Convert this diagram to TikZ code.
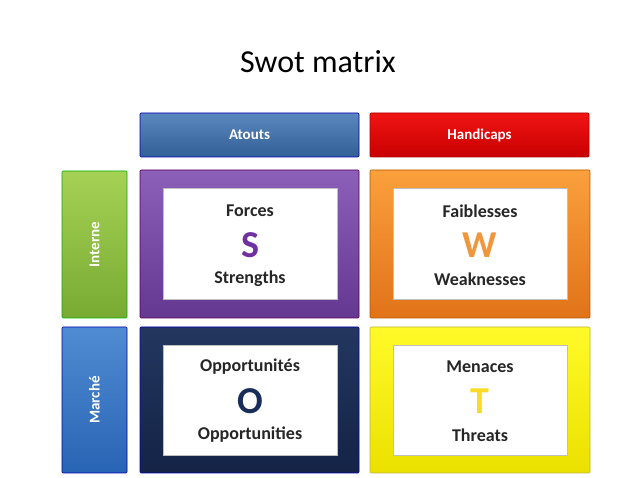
\documentclass[tikz,border=0pt]{standalone}
\usepackage{fontspec}
\setmainfont{Carlito}
\begin{document}
\begin{tikzpicture}[x=1pt,y=-1pt,
 box/.style={rounded corners=1pt,draw=#1!70!black,line width=0.6pt},
 inner/.style={fill=white,draw=black!25,line width=0.5pt},
 lab/.style={font=\bfseries\fontsize{18}{20}\selectfont,text=black!85},
 big/.style={font=\bfseries\fontsize{38}{40}\selectfont},
 hd/.style={font=\bfseries\fontsize{15}{17}\selectfont,text=white}]
\useasboundingbox (0,0) rectangle (638,478);
\node (title) at (318,62) {\fontsize{32}{36}\selectfont Swot matrix};
% headers
\shade[box=blue, top color={rgb,255:red,90;green,135;blue,190}, bottom color={rgb,255:red,50;green,95;blue,150}] (140,113) rectangle (359,157);
\node[hd] (atouts) at (249.5,135) {Atouts};
\shade[box=red, top color={rgb,255:red,240;green,20;blue,20}, bottom color={rgb,255:red,200;green,0;blue,0}] (370,113) rectangle (589,157);
\node[hd] (handicaps) at (479.5,135) {Handicaps};
% side
\shade[box=green, top color={rgb,255:red,165;green,210;blue,85}, bottom color={rgb,255:red,120;green,170;blue,50}] (62,171) rectangle (127,318);
\node[hd,rotate=90] (interne) at (94.5,244.5) {Interne};
\shade[box=blue, top color={rgb,255:red,80;green,140;blue,210}, bottom color={rgb,255:red,40;green,100;blue,180}] (62,327) rectangle (127,473);
\node[hd,rotate=90] (marche) at (94.5,400) {Marché};
% quadrants
\shade[box=violet, top color={rgb,255:red,140;green,95;blue,185}, bottom color={rgb,255:red,100;green,55;blue,145}] (140,170) rectangle (359,318);
\draw[inner] (163,188) rectangle (337,299);
\node[lab] (f) at (250,211) {Forces};
\node[big,text={rgb,255:red,112;green,48;blue,160}] (s) at (250,245) {S};
\node[lab] (fs) at (250,279) {Strengths};
\shade[box=orange, top color={rgb,255:red,250;green,160;blue,60}, bottom color={rgb,255:red,225;green,115;blue,25}] (370,170) rectangle (590,318);
\draw[inner] (393,188) rectangle (567,299);
\node[lab] (w1) at (480,211) {Faiblesses};
\node[big,text={rgb,255:red,240;green,150;blue,60}] (w) at (480,245) {W};
\node[lab] (w2) at (480,279) {Weaknesses};
\shade[box=blue, top color={rgb,255:red,35;green,55;blue,95}, bottom color={rgb,255:red,20;green,35;blue,70}] (140,327) rectangle (359,473);
\draw[inner] (163,345) rectangle (337,455);
\node[lab] (o1) at (250,367) {Opportunités};
\node[big,text={rgb,255:red,25;green,45;blue,90}] (o) at (250,401) {O};
\node[lab] (o2) at (250,435) {Opportunities};
\shade[box=yellow, top color={rgb,255:red,255;green,250;blue,40}, bottom color={rgb,255:red,235;green,225;blue,0}] (370,327) rectangle (590,473);
\draw[inner] (393,345) rectangle (567,455);
\node[lab] (t1) at (480,367) {Menaces};
\node[big,text={rgb,255:red,250;green,220;blue,40}] (t) at (480,401) {T};
\node[lab] (t2) at (480,435) {Threats};
\end{tikzpicture}
\end{document}
